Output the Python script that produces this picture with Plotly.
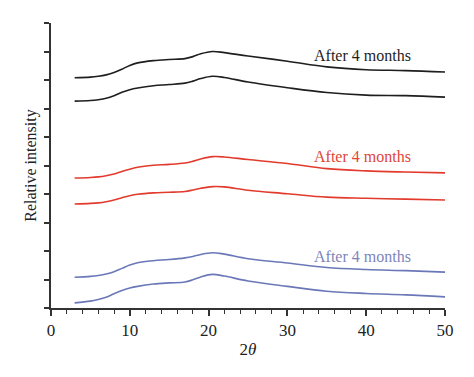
import plotly.graph_objects as go

# 2-theta sample points
two_theta = [3, 5, 6, 7, 8, 9, 10, 11, 13, 15, 17, 18, 19, 20.5, 22, 25, 30, 35, 40, 45, 50]

# Relative intensity (offset traces)
black_after = [8.08, 8.10, 8.13, 8.18, 8.26, 8.38, 8.51, 8.60, 8.68, 8.72, 8.75, 8.82, 8.92, 9.00, 8.96, 8.84, 8.66, 8.46, 8.36, 8.33, 8.28]
black_before = [7.26, 7.28, 7.31, 7.36, 7.45, 7.57, 7.66, 7.72, 7.80, 7.84, 7.89, 7.96, 8.05, 8.13, 8.09, 7.93, 7.73, 7.56, 7.47, 7.45, 7.40]
red_after = [4.56, 4.58, 4.60, 4.64, 4.70, 4.79, 4.87, 4.94, 5.01, 5.04, 5.09, 5.15, 5.23, 5.31, 5.30, 5.21, 5.07, 4.89, 4.81, 4.77, 4.74]
red_before = [3.65, 3.67, 3.69, 3.73, 3.79, 3.87, 3.94, 3.99, 4.04, 4.06, 4.09, 4.14, 4.20, 4.26, 4.25, 4.13, 4.01, 3.89, 3.85, 3.82, 3.79]
blue_after = [1.08, 1.11, 1.14, 1.19, 1.27, 1.39, 1.51, 1.59, 1.66, 1.70, 1.76, 1.81, 1.88, 1.94, 1.89, 1.73, 1.58, 1.42, 1.35, 1.31, 1.26]
blue_before = [0.18, 0.24, 0.30, 0.38, 0.50, 0.61, 0.70, 0.76, 0.84, 0.88, 0.91, 0.99, 1.09, 1.18, 1.12, 0.95, 0.76, 0.59, 0.51, 0.46, 0.39]

label_text = "After 4 months"
label_x = 39.5
label_y = [8.87, 5.30, 1.82]

x_ticks = [0, 10, 20, 30, 40, 50]

series = [
    (black_after, "#1e1e1e"),
    (black_before, "#1e1e1e"),
    (red_after, "#e23b2e"),
    (red_before, "#e23b2e"),
    (blue_after, "#6a78b8"),
    (blue_before, "#6a78b8"),
]
label_colors = ["#1e1e1e", "#e0463a", "#7d86ba"]

fig = go.Figure()
for ys, c in series:
    fig.add_trace(go.Scatter(x=two_theta, y=ys, mode="lines",
                             line=dict(color=c, width=1.6, shape="spline", smoothing=1.0),
                             showlegend=False, hoverinfo="skip"))

for yv, c in zip(label_y, label_colors):
    fig.add_annotation(x=label_x, y=yv, text=label_text, showarrow=False,
                       font=dict(family="Liberation Serif, serif", size=16, color=c))

serif = "Liberation Serif, DejaVu Serif, serif"
fig.update_layout(
    width=474, height=377,
    margin=dict(l=43, r=37, t=15, b=77),
    paper_bgcolor="white", plot_bgcolor="white",
    font=dict(family=serif, size=16, color="#222"),
)
fig.update_xaxes(range=[0, 50], tickvals=x_ticks, ticks="outside", ticklen=6, tickwidth=1.5,
                 tickcolor="#333", showline=True, linecolor="#333", linewidth=2,
                 showgrid=False, zeroline=False, automargin=False,
                 minor=dict(dtick=2, ticks="outside", ticklen=4, tickwidth=1.2, tickcolor="#333"),
                 title=dict(text="2<i>θ</i>", font=dict(family=serif, size=17), standoff=4),
                 tickfont=dict(family=serif, size=17))
fig.update_yaxes(range=[0, 10], dtick=1, ticks="outside", ticklen=5, tickwidth=1.5,
                 tickcolor="#333", showline=True, linecolor="#333", linewidth=2,
                 showticklabels=False, showgrid=False, zeroline=False, automargin=False,
                 title=dict(text="Relative intensity", font=dict(family=serif, size=16), standoff=3))

fig.write_html("out.html")
